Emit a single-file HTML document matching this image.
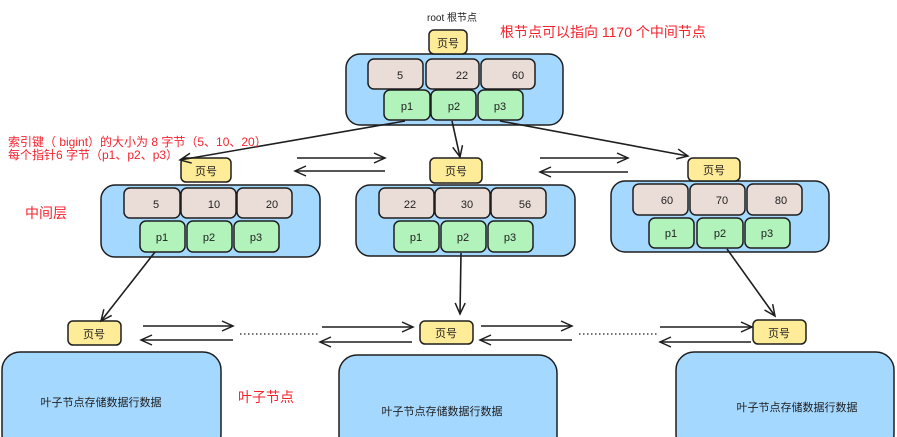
<!DOCTYPE html>
<html><head><meta charset="utf-8"><style>
html,body{margin:0;padding:0;background:#fff;}
svg{display:block;}
text{font-family:"Liberation Sans","Noto Sans CJK SC",sans-serif;}
</style></head><body>
<svg width="897" height="437" viewBox="0 0 897 437" xmlns="http://www.w3.org/2000/svg">
<defs>
<marker id="a" markerWidth="14" markerHeight="12" refX="12" refY="6" orient="auto" markerUnits="userSpaceOnUse">
<path d="M1,1 L12,6 L1,11" fill="none" stroke="#1e1e1e" stroke-width="1.5"/>
</marker>
</defs>
<g stroke="#1e1e1e" stroke-width="1.5">
<!-- root -->
<rect x="346" y="54" width="217" height="71" rx="14" fill="#a5d8ff"/>
<rect x="429" y="30" width="38" height="24" rx="5" fill="#ffec99"/>
<rect x="368" y="59" width="55" height="30" rx="6" fill="#eaddd7"/>
<rect x="426" y="59" width="53" height="30" rx="6" fill="#eaddd7"/>
<rect x="481" y="59" width="54" height="30" rx="6" fill="#eaddd7"/>
<rect x="384" y="90" width="46" height="30" rx="6" fill="#b2f2bb"/>
<rect x="431" y="90" width="45" height="30" rx="6" fill="#b2f2bb"/>
<rect x="478" y="90" width="45" height="30" rx="6" fill="#b2f2bb"/>
<!-- mid left -->
<rect x="101" y="185" width="219" height="72" rx="14" fill="#a5d8ff"/>
<rect x="181" y="158" width="50" height="24" rx="5" fill="#ffec99"/>
<rect x="124" y="188" width="56" height="30" rx="6" fill="#eaddd7"/>
<rect x="181" y="188" width="55" height="30" rx="6" fill="#eaddd7"/>
<rect x="237" y="188" width="55" height="30" rx="6" fill="#eaddd7"/>
<rect x="140" y="221" width="45" height="31" rx="6" fill="#b2f2bb"/>
<rect x="187" y="221" width="45" height="31" rx="6" fill="#b2f2bb"/>
<rect x="234" y="221" width="45" height="31" rx="6" fill="#b2f2bb"/>
<!-- mid center -->
<rect x="356" y="185" width="219" height="71" rx="14" fill="#a5d8ff"/>
<rect x="430" y="158" width="52" height="25" rx="5" fill="#ffec99"/>
<rect x="379" y="188" width="55" height="30" rx="6" fill="#eaddd7"/>
<rect x="435" y="188" width="55" height="30" rx="6" fill="#eaddd7"/>
<rect x="491" y="188" width="55" height="30" rx="6" fill="#eaddd7"/>
<rect x="394" y="221" width="45" height="31" rx="6" fill="#b2f2bb"/>
<rect x="441" y="221" width="45" height="31" rx="6" fill="#b2f2bb"/>
<rect x="488" y="221" width="45" height="31" rx="6" fill="#b2f2bb"/>
<!-- mid right -->
<rect x="611" y="181" width="218" height="71" rx="14" fill="#a5d8ff"/>
<rect x="688" y="158" width="52" height="23" rx="5" fill="#ffec99"/>
<rect x="633" y="184" width="55" height="31" rx="6" fill="#eaddd7"/>
<rect x="690" y="184" width="55" height="31" rx="6" fill="#eaddd7"/>
<rect x="747" y="184" width="55" height="31" rx="6" fill="#eaddd7"/>
<rect x="649" y="218" width="45" height="30" rx="6" fill="#b2f2bb"/>
<rect x="697" y="218" width="46" height="30" rx="6" fill="#b2f2bb"/>
<rect x="745" y="218" width="45" height="30" rx="6" fill="#b2f2bb"/>
<!-- leaves -->
<rect x="68" y="321" width="53" height="24" rx="5" fill="#ffec99"/>
<rect x="420" y="321" width="53" height="23" rx="5" fill="#ffec99"/>
<rect x="753" y="320" width="53" height="24" rx="5" fill="#ffec99"/>
<rect x="2" y="352" width="219" height="100" rx="18" fill="#a5d8ff"/>
<rect x="339" y="355" width="218" height="100" rx="18" fill="#a5d8ff"/>
<rect x="676" y="352" width="218" height="100" rx="18" fill="#a5d8ff"/>
</g>
<g stroke="#1e1e1e" stroke-width="1.6" fill="none" marker-end="url(#a)">
<path d="M405,121 L180,160"/>
<path d="M452,121 L460,157"/>
<path d="M500,121 L688,156"/>
<path d="M297,158 L385,158"/>
<path d="M385,171 L295,171"/>
<path d="M540,158 L628,158"/>
<path d="M628,172 L540,172"/>
<path d="M155,252 L101,321"/>
<path d="M461,253 L460,314"/>
<path d="M727,249 L775,316"/>
<path d="M143,326 L233,326"/>
<path d="M233,340 L141,340"/>
<path d="M322,327 L413,327"/>
<path d="M412,342 L320,342"/>
<path d="M481,326 L572,326"/>
<path d="M572,340 L480,340"/>
<path d="M660,327 L752,327"/>
<path d="M751,342 L660,342"/>
</g>
<g stroke="#1e1e1e" stroke-width="1.2" stroke-dasharray="1.5,2.5">
<path d="M240,334 L318,334"/><path d="M579,334 L657,334"/>
</g>
<g font-size="11" fill="#1e1e1e" text-anchor="middle">
<text x="448" y="47">页号</text>
<text x="206" y="175">页号</text>
<text x="456" y="175">页号</text>
<text x="714" y="174">页号</text>
<text x="94" y="338">页号</text>
<text x="446" y="337">页号</text>
<text x="779" y="337">页号</text>
<text x="400" y="79">5</text><text x="462" y="79">22</text><text x="518" y="79">60</text>
<text x="407" y="110">p1</text><text x="454" y="110">p2</text><text x="500" y="110">p3</text>
<text x="156" y="208">5</text><text x="214" y="208">10</text><text x="272" y="208">20</text>
<text x="162" y="241">p1</text><text x="209" y="241">p2</text><text x="256" y="241">p3</text>
<text x="410" y="208">22</text><text x="467" y="208">30</text><text x="525" y="208">56</text>
<text x="416" y="241">p1</text><text x="463" y="241">p2</text><text x="510" y="241">p3</text>
<text x="667" y="204">60</text><text x="722" y="204">70</text><text x="781" y="204">80</text>
<text x="671" y="237">p1</text><text x="720" y="237">p2</text><text x="767" y="237">p3</text>
<text x="452" y="21" font-size="10">root 根节点</text>
<text x="101" y="406">叶子节点存储数据行数据</text>
<text x="442" y="415">叶子节点存储数据行数据</text>
<text x="797" y="411">叶子节点存储数据行数据</text>
</g>
<g fill="#f5222d">
<text x="500" y="37" font-size="14">根节点可以指向 1170 个中间节点</text>
<text x="8" y="146" font-size="12">索引键（ bigint）的大小为 8 字节（5、10、20）</text>
<text x="8" y="159" font-size="12">每个指针6 字节（p1、p2、p3）</text>
<text x="25" y="218" font-size="14">中间层</text>
<text x="238" y="402" font-size="14">叶子节点</text>
</g>
</svg>
</body></html>
